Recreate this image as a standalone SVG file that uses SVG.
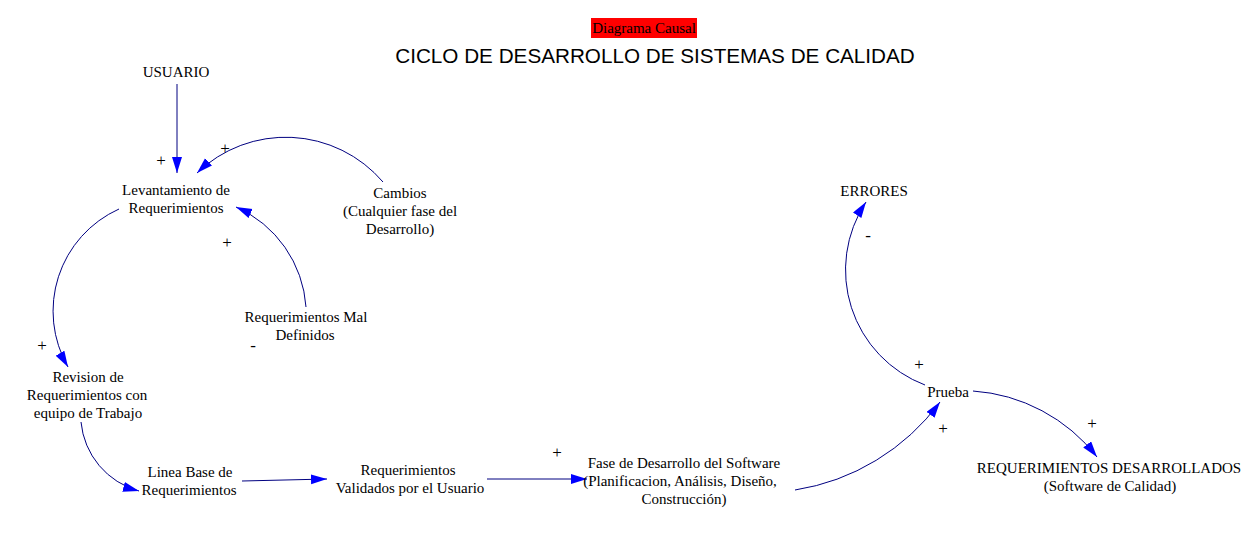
<svg xmlns="http://www.w3.org/2000/svg" width="1256" height="534" viewBox="0 0 1256 534">
<style>
.t{font-family:"Liberation Serif","Times New Roman",serif;font-size:15px;fill:#000;text-anchor:middle}
.s{font-family:"Liberation Serif","Times New Roman",serif;font-size:17px;fill:#000;text-anchor:middle}
.c{fill:none;stroke:#000080;stroke-width:1;marker-end:url(#ah)}
.h{font-family:"Liberation Sans",Arial,sans-serif;font-size:20.7px;fill:#000;text-anchor:middle}
</style>
<defs>
<marker id="ah" markerUnits="userSpaceOnUse" markerWidth="18" markerHeight="12" refX="16" refY="5" orient="auto">
<path d="M0,0 L16,5 L0,10 z" fill="#0000ff"/>
</marker>
</defs>
<rect width="1256" height="534" fill="#fff"/>
<g id="title">
<rect x="591" y="18" width="106" height="20" fill="#ff0000"/>
<text class="t" x="644" y="33">Diagrama Causal</text>
<text class="h" x="655" y="63">CICLO DE DESARROLLO DE SISTEMAS DE CALIDAD</text>
</g>
<g id="connectors">
<path class="c" d="M177,84 L177,173"/>
<path class="c" d="M383,182 A128,128 0 0 0 197,173"/>
<path class="c" d="M306,307 A118,118 0 0 0 236,207"/>
<path class="c" d="M119,209 A112,112 0 0 0 68,367"/>
<path class="c" d="M81,422 A79,79 0 0 0 139,491"/>
<path class="c" d="M242,481 L327,479"/>
<path class="c" d="M487,479 L587,479"/>
<path class="c" d="M795,490 A223,223 0 0 0 940,402"/>
<path class="c" d="M925,385 A123,123 0 0 1 866,202"/>
<path class="c" d="M973,391 A172,172 0 0 1 1097,457"/>
</g>
<g id="polarities">
<text class="s" x="161" y="166">+</text>
<text class="s" x="225" y="154">+</text>
<text class="s" x="227" y="248">+</text>
<text class="s" x="253" y="351">-</text>
<text class="s" x="42" y="351">+</text>
<text class="s" x="557" y="458">+</text>
<text class="s" x="868" y="241">-</text>
<text class="s" x="919" y="370">+</text>
<text class="s" x="943" y="434">+</text>
<text class="s" x="1092" y="429">+</text>
</g>
<g id="usuario"><text class="t" x="176" y="77">USUARIO</text></g>
<g id="levantamiento"><text class="t" x="176" y="195">Levantamiento de</text><text class="t" x="176" y="213">Requerimientos</text></g>
<g id="cambios"><text class="t" x="400" y="198">Cambios</text><text class="t" x="400" y="216">(Cualquier fase del</text><text class="t" x="400" y="234">Desarrollo)</text></g>
<g id="mal-definidos"><text class="t" x="306" y="322">Requerimientos Mal</text><text class="t" x="305" y="340">Definidos</text></g>
<g id="revision"><text class="t" x="88" y="382">Revision de</text><text class="t" x="87" y="400">Requerimientos con</text><text class="t" x="88" y="418">equipo de Trabajo</text></g>
<g id="linea-base"><text class="t" x="190" y="477">Linea Base de</text><text class="t" x="189" y="495">Requerimientos</text></g>
<g id="validados"><text class="t" x="408" y="475">Requerimientos</text><text class="t" x="410" y="493">Validados por el Usuario</text></g>
<g id="fase"><text class="t" x="684" y="468">Fase de Desarrollo del Software</text><text class="t" x="680" y="486">(Planificacion, Análisis, Diseño,</text><text class="t" x="684" y="504">Construcción)</text></g>
<g id="errores"><text class="t" x="874" y="196">ERRORES</text></g>
<g id="prueba"><text class="t" x="948" y="397">Prueba</text></g>
<g id="desarrollados"><text class="t" x="1109" y="473">REQUERIMIENTOS DESARROLLADOS</text><text class="t" x="1110" y="491">(Software de Calidad)</text></g>
</svg>
